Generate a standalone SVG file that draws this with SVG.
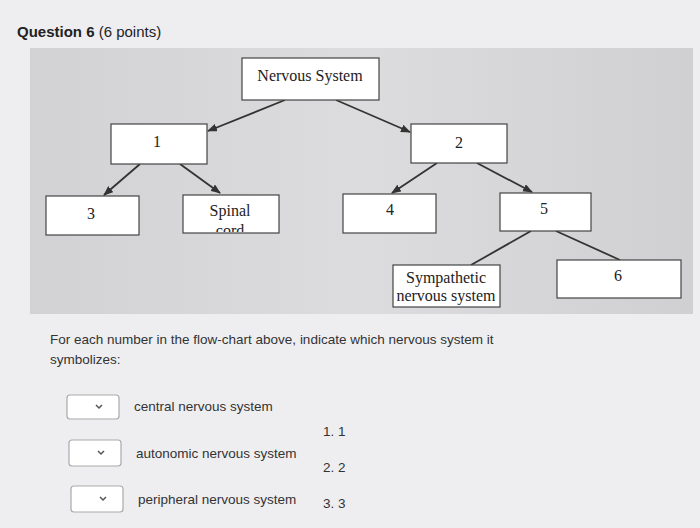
<svg xmlns="http://www.w3.org/2000/svg" width="700" height="528" viewBox="0 0 700 528">
<defs>
<marker id="ah" markerWidth="10" markerHeight="8" refX="9" refY="4" orient="auto" markerUnits="userSpaceOnUse"><path d="M0,0 L10,4 L0,8 z" fill="#333"/></marker>
<linearGradient id="bg" x1="0" y1="0" x2="1" y2="0"><stop offset="0" stop-color="#d2d2d4"/><stop offset="0.5" stop-color="#dcdcde"/><stop offset="1" stop-color="#d0d0d2"/></linearGradient>
<clipPath id="spc"><rect x="183" y="195" width="96" height="37"/></clipPath>
</defs>
<style>
.box{fill:#fff;stroke:#444;stroke-width:1.2}
.nt{font-family:"Liberation Serif",serif;font-size:16px;fill:#222;text-anchor:middle}
.t{font-family:"Liberation Sans",sans-serif;font-size:13.5px;fill:#333}
.c line{stroke:#333;stroke-width:1.8}
.dd{fill:#fff;stroke:#aaa;stroke-width:1.2}
.chev{fill:none;stroke:#555;stroke-width:1.5}
</style>
<rect width="700" height="528" fill="#eeeef1"/>
<text x="17" y="37" font-family="Liberation Sans,sans-serif" font-size="15" fill="#222"><tspan font-weight="bold">Question 6</tspan> (6 points)</text>
<rect x="30" y="48" width="663" height="266" fill="url(#bg)"/>
<g class="c">
<line x1="285" y1="100" x2="208" y2="131" marker-end="url(#ah)"/>
<line x1="336" y1="100" x2="410" y2="132" marker-end="url(#ah)"/>
<line x1="140" y1="164" x2="104" y2="195" marker-end="url(#ah)"/>
<line x1="180" y1="164" x2="220" y2="193" marker-end="url(#ah)"/>
<line x1="437" y1="163" x2="392" y2="193" marker-end="url(#ah)"/>
<line x1="477" y1="163" x2="532" y2="192" marker-end="url(#ah)"/>
<line x1="531" y1="231" x2="471" y2="265"/>
<line x1="556" y1="231" x2="620" y2="260"/>
</g>
<g id="n-ns"><rect class="box" x="242" y="58" width="137" height="42"/><text class="nt" x="310" y="81">Nervous System</text></g>
<g id="n1"><rect class="box" x="111" y="124" width="96" height="40"/><text class="nt" x="157" y="147">1</text></g>
<g id="n2"><rect class="box" x="411" y="124" width="96" height="39"/><text class="nt" x="459" y="148">2</text></g>
<g id="n3"><rect class="box" x="46" y="196" width="93" height="39"/><text class="nt" x="91" y="219">3</text></g>
<g id="n-spinal"><rect class="box" x="183" y="195" width="96" height="38"/><text class="nt" x="230" y="216">Spinal</text><text class="nt" x="230" y="236" font-size="13" clip-path="url(#spc)">cord</text></g>
<g id="n4"><rect class="box" x="343" y="194" width="93" height="39"/><text class="nt" x="390" y="215">4</text></g>
<g id="n5"><rect class="box" x="500" y="193" width="91" height="38"/><text class="nt" x="544" y="214">5</text></g>
<g id="n-symp"><rect class="box" x="393" y="265" width="107" height="42"/><text class="nt" x="446" y="283" font-size="15">Sympathetic</text><text class="nt" x="446" y="301" font-size="15">nervous system</text></g>
<g id="n6"><rect class="box" x="557" y="260" width="124" height="38"/><text class="nt" x="618" y="281">6</text></g>
<text class="t" x="50" y="344">For each number in the flow-chart above, indicate which nervous system it</text>
<text class="t" x="50" y="364">symbolizes:</text>
<rect class="dd" x="67" y="395" width="52" height="24" rx="3"/><path class="chev" d="M96,405 l3,3 l3,-3"/>
<rect class="dd" x="69" y="440" width="52" height="26" rx="3"/><path class="chev" d="M98,451 l3,3 l3,-3"/>
<rect class="dd" x="71" y="486" width="52" height="26" rx="3"/><path class="chev" d="M100,497 l3,3 l3,-3"/>
<text class="t" x="134" y="411">central nervous system</text>
<text class="t" x="136" y="458">autonomic nervous system</text>
<text class="t" x="138" y="504">peripheral nervous system</text>
<text class="t" x="323" y="436">1.  1</text>
<text class="t" x="323" y="472">2.  2</text>
<text class="t" x="323" y="508">3.  3</text>
</svg>
